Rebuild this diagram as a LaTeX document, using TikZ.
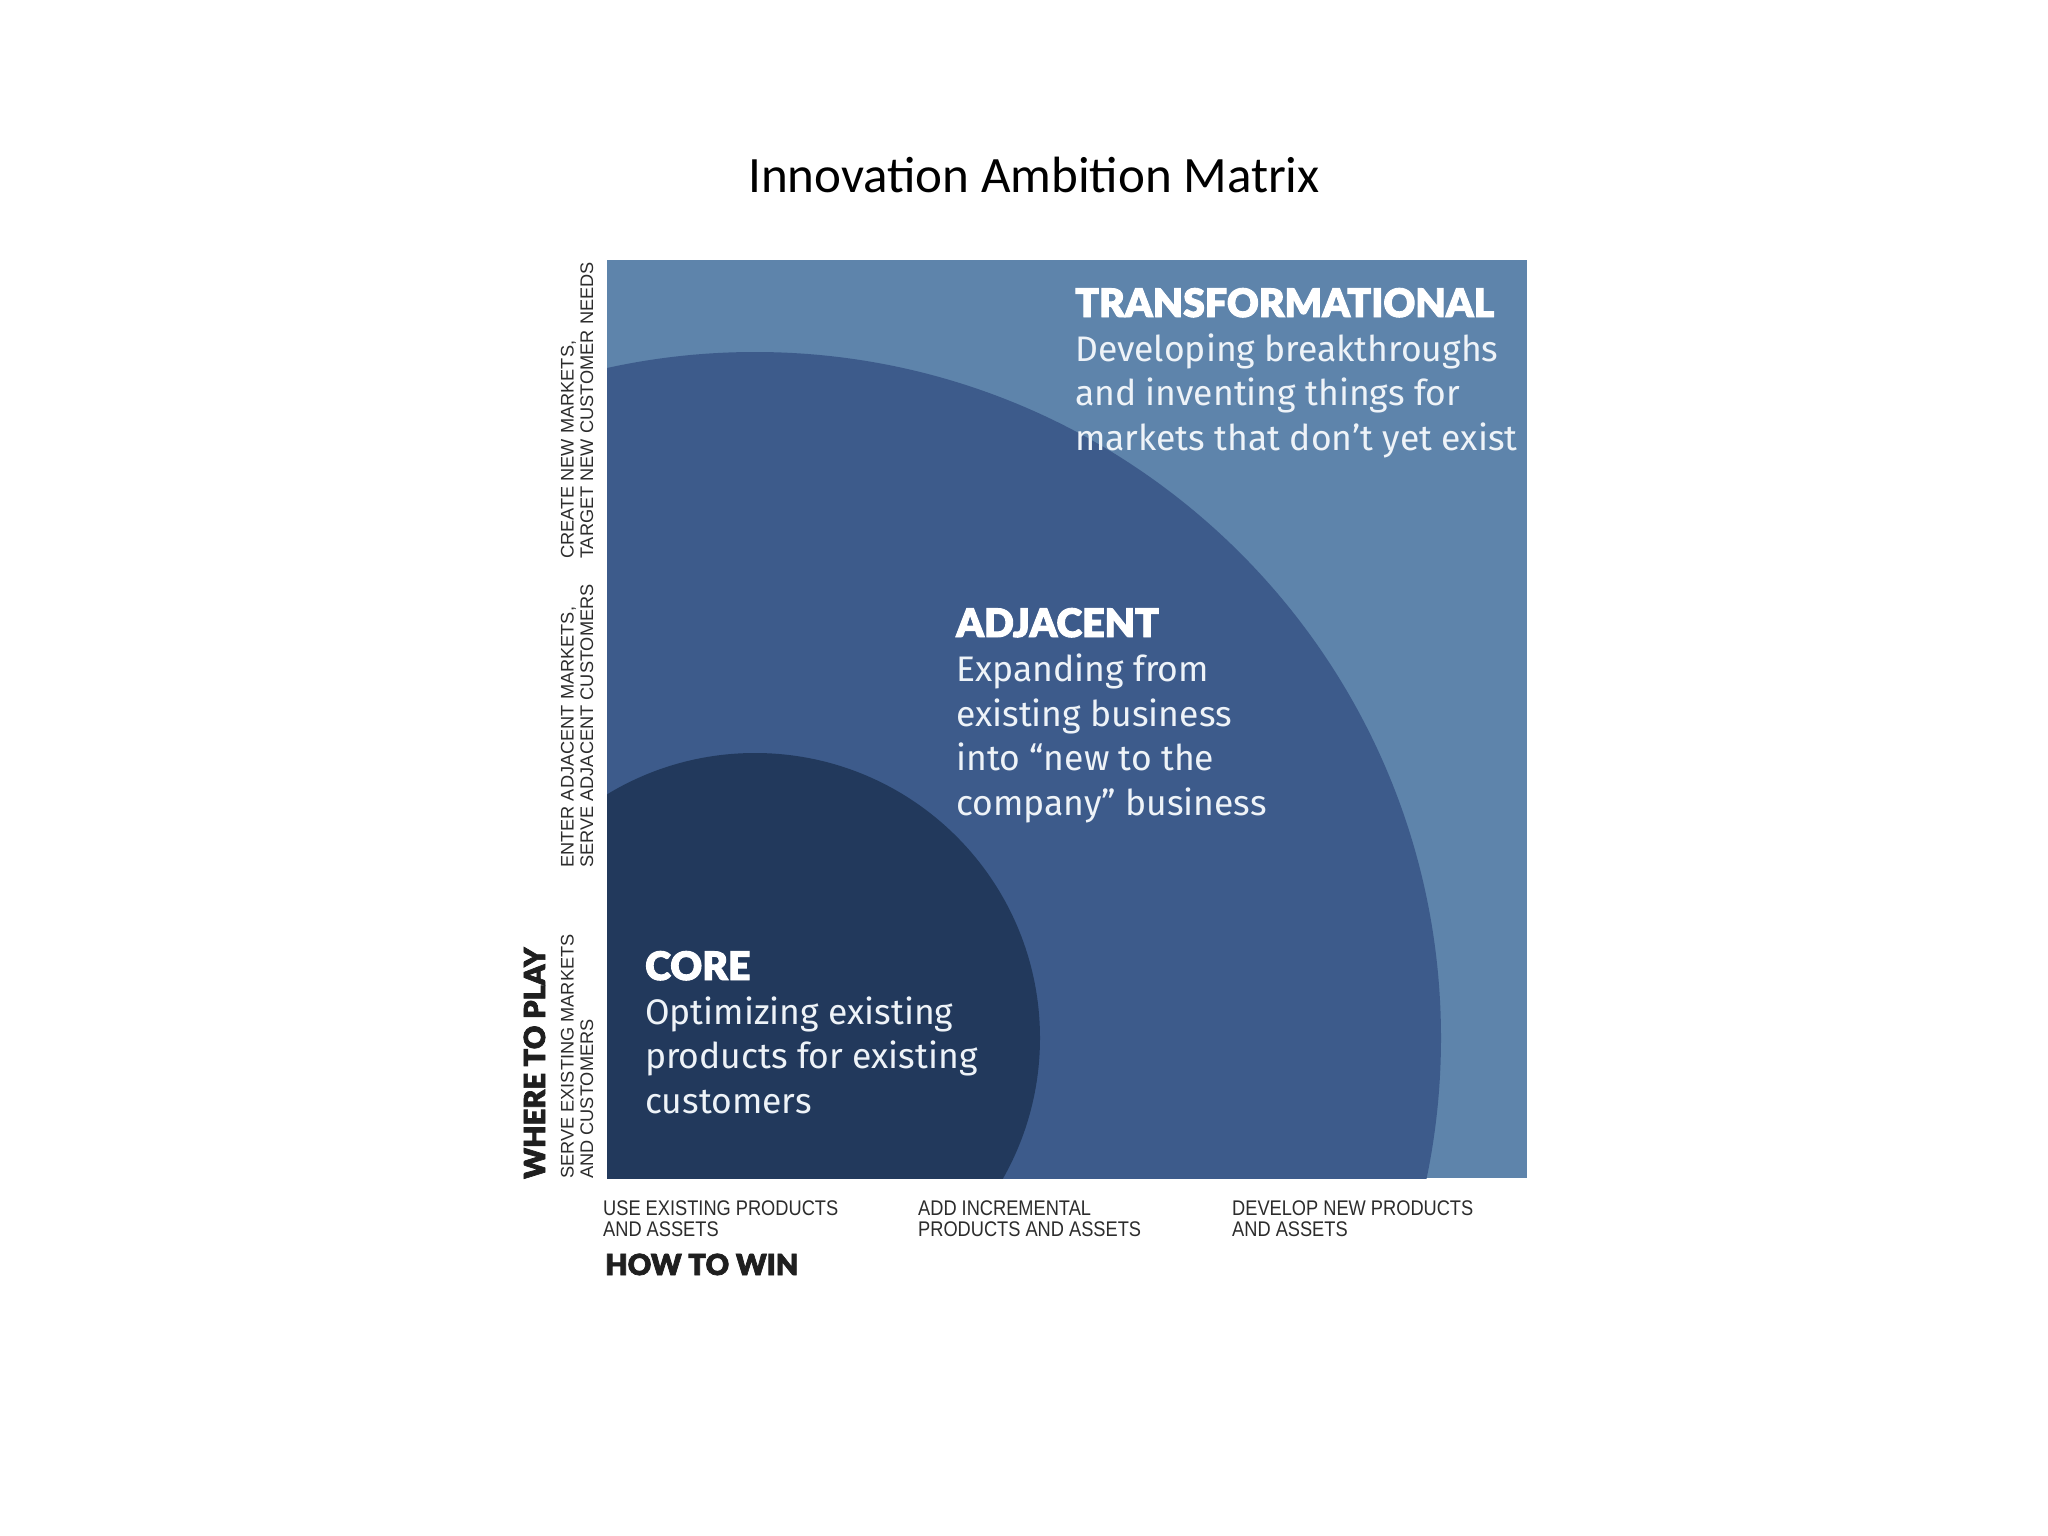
\documentclass[tikz,border=0pt]{standalone}
\usepackage{fontspec}
\setmainfont{Fira Sans}
\newfontfamily\titlefont{Carlito}
\newfontfamily\heavyfont{Lato Black}[FakeBold=2.4]
\newfontfamily\labelfont{Liberation Sans}
\newfontfamily\condfont{Liberation Sans}[FakeStretch=0.86]
\definecolor{outerblue}{HTML}{5E84AB}
\definecolor{midblue}{HTML}{3D5B8B}
\definecolor{coreblue}{HTML}{22395C}
\definecolor{bodywhite}{HTML}{EEF3F8}
\definecolor{labelgray}{HTML}{2C2C2C}
\tikzset{
  heading/.style={anchor=base west, inner sep=0pt, text=white, font=\heavyfont\fontsize{39.2}{44}\selectfont},
  bodytext/.style={anchor=base west, inner sep=0pt, text=bodywhite, align=left, font=\fontsize{35.5}{44.5}\selectfont},
  sidelabel/.style={anchor=base west, inner sep=0pt, rotate=90, text=labelgray, align=left, font=\labelfont\fontsize{18.2}{19.5}\selectfont},
  bottomlabel/.style={anchor=base west, inner sep=0pt, text=labelgray, align=left, font=\condfont\fontsize{21.2}{21}\selectfont},
  axistitle/.style={anchor=base west, inner sep=0pt, text=black!88, font=\heavyfont\fontsize{29}{32}\selectfont}
}
\begin{document}
\begin{tikzpicture}[x=1pt,y=-1pt]
\useasboundingbox (0,0) rectangle (2048,1536);
\fill[white] (0,0) rectangle (2048,1536);
% title
\node[anchor=base, inner sep=0pt, font=\titlefont\fontsize{51}{56}\selectfont] (title) at (1034,192) {Innovation Ambition Matrix};
% matrix square with circles
\begin{scope}
  \clip (607,260) rectangle (1527,1178);
  \fill[outerblue] (607,260) rectangle (1527,1178);
  \fill[midblue] (755,1038) circle[radius=686];
  \fill[coreblue] (755,1038) circle[radius=285];
\end{scope}
% region texts (base anchor = baseline of last line)
\node[heading] (transhead) at (1075,317) {TRANSFORMATIONAL};
\node[bodytext] (transbody) at (1075,450) {Developing breakthroughs\\and inventing things for\\markets that don’t yet exist};
\node[heading] (adjhead) at (956,637) {ADJACENT};
\node[bodytext] (adjbody) at (956,815) {Expanding from\\existing business\\into “new to the\\company” business};
\node[heading] (corehead) at (645,980) {CORE};
\node[bodytext] (corebody) at (645,1113) {Optimizing existing\\products for existing\\customers};
% left axis labels
\node[sidelabel] (create) at (593,559) {CREATE NEW MARKETS,\\TARGET NEW CUSTOMER NEEDS};
\node[sidelabel] (enter) at (593,868) {ENTER ADJACENT MARKETS,\\SERVE ADJACENT CUSTOMERS};
\node[sidelabel] (serve) at (593,1179) {SERVE EXISTING MARKETS\\AND CUSTOMERS};
\node[axistitle, rotate=90] (where) at (545,1179) {WHERE TO PLAY};
% bottom axis labels
\node[bottomlabel] (useex) at (603,1236) {USE EXISTING PRODUCTS\\AND ASSETS};
\node[bottomlabel] (addinc) at (918,1236) {ADD INCREMENTAL\\PRODUCTS AND ASSETS};
\node[bottomlabel] (devnew) at (1232,1236) {DEVELOP NEW PRODUCTS\\AND ASSETS};
\node[axistitle] (howto) at (605,1275) {HOW TO WIN};
\end{tikzpicture}
\end{document}
